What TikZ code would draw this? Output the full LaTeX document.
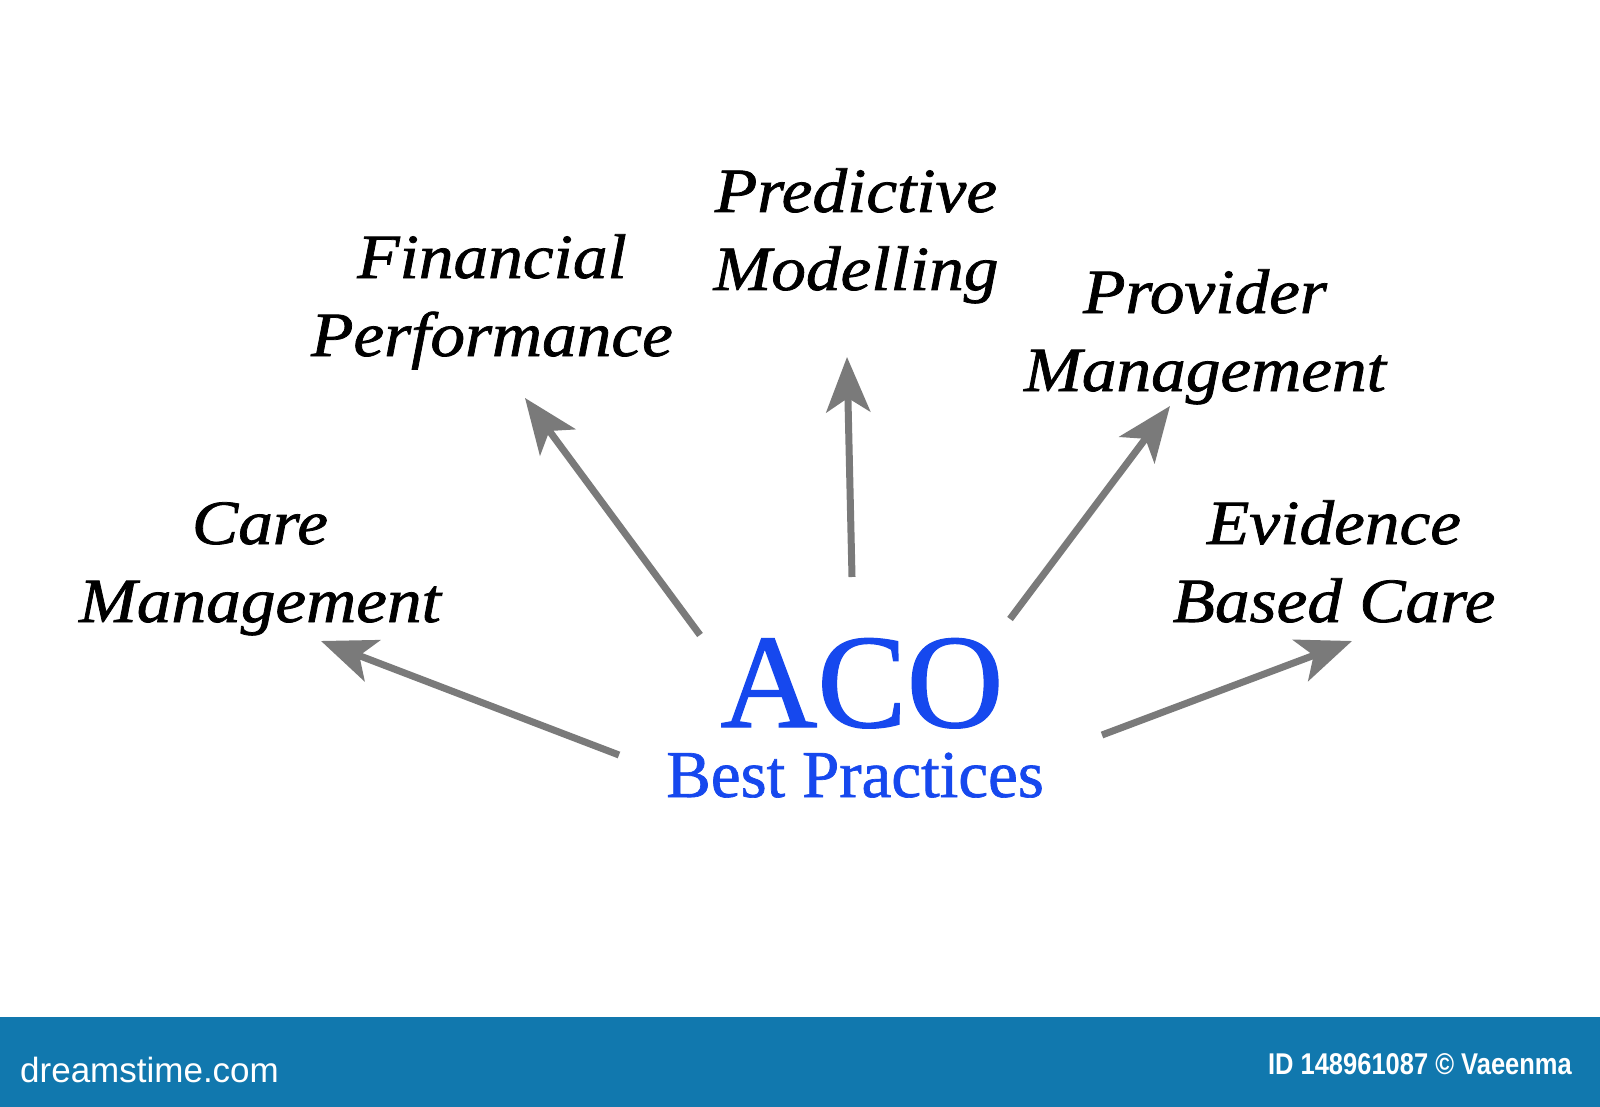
\documentclass[tikz,border=0pt]{standalone}
\usepackage{fontspec}
\setmainfont{Liberation Serif}
\newfontfamily\lblfont[FakeStretch=1.1,FakeBold=1.2]{Liberation Serif}
\newfontfamily\acofont[FakeBold=1]{Liberation Serif}
\newfontfamily\barfont{Liberation Sans}
\newfontfamily\creditfont[FakeStretch=0.85]{Liberation Sans}
\usetikzlibrary{arrows.meta}
\definecolor{arrowgray}{RGB}{122,122,122}
\definecolor{acoblue}{RGB}{22,72,238}
\definecolor{barblue}{RGB}{17,120,174}
\tikzset{
  lbl/.style={align=center, anchor=base, text=black, inner sep=0pt,
    font=\lblfont\itshape\fontsize{63}{78}\selectfont},
  spoke/.style={draw=arrowgray, line width=7pt,
    -{Stealth[length=55pt, width=44pt, inset=14pt]}},
}
\begin{document}
\begin{tikzpicture}[x=1pt,y=-1pt]
\useasboundingbox (0,0) rectangle (1600,1107);
\fill[white] (0,0) rectangle (1600,1107);

% labels (anchor = baseline of the last line)
\node[lbl] (care) at (260,622) {Care\\Management};
\node[lbl] (fin) at (492,356) {Financial\\Performance};
\node[lbl] (pred) at (856,290) {Predictive\\Modelling};
\node[lbl] (prov) at (1205,391) {Provider\\Management};
\node[lbl] (evid) at (1334,622) {Evidence\\Based Care};

% centre
\node[anchor=base, inner sep=0pt, text depth=0pt, text=acoblue, font=\acofont\fontsize{134}{134}\selectfont] (aco) at (862,727) {ACO};
\node[anchor=base, inner sep=0pt, text=acoblue, font=\acofont\fontsize{67}{67}\selectfont] (best) at (855,797) {Best Practices};

% arrow ends
\coordinate (s1) at (619,755); \coordinate (e1) at (321,641);
\coordinate (s2) at (700,635); \coordinate (e2) at (525,398);
\coordinate (s3) at (852,577); \coordinate (e3) at (847,357);
\coordinate (s4) at (1010,619); \coordinate (e4) at (1170,406);
\coordinate (s5) at (1102,735); \coordinate (e5) at (1352,641);
\draw[spoke] (s1) -- (e1);
\draw[spoke] (s2) -- (e2);
\draw[spoke] (s3) -- (e3);
\draw[spoke] (s4) -- (e4);
\draw[spoke] (s5) -- (e5);

% bottom bar
\fill[barblue] (0,1017) rectangle (1600,1107);
\node[anchor=west, inner sep=0pt, text=white, font=\barfont\fontsize{35}{35}\selectfont] (logo) at (20,1070) {dreamstime.com};
\node[anchor=east, inner sep=0pt, text=white, font=\creditfont\bfseries\fontsize{30}{30}\selectfont] (credit) at (1572,1064) {ID 148961087 © Vaeenma};
\end{tikzpicture}
\end{document}
